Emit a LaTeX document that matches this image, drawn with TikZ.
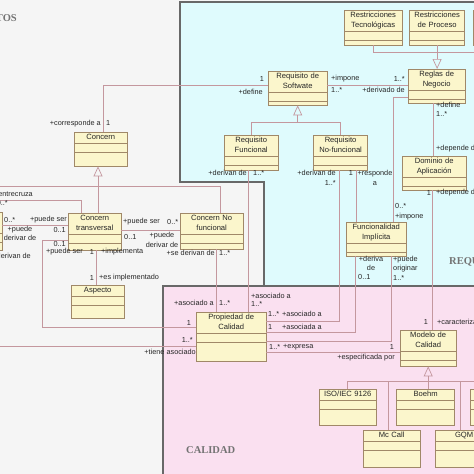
\documentclass[tikz,border=0pt]{standalone}
\usepackage{fontspec}
\setmainfont{Liberation Sans}
\newfontfamily\pkgfont{Liberation Serif}
\usetikzlibrary{positioning,shapes.multipart,arrows.meta}
\definecolor{bggray}{HTML}{F5F5F5}
\definecolor{reqblue}{HTML}{DFFBFD}
\definecolor{calpink}{HTML}{FAE0F0}
\definecolor{clsfill}{HTML}{FBF6CC}
\definecolor{clsline}{HTML}{A08868}
\definecolor{assoccol}{HTML}{C4979E}
\definecolor{pkgline}{HTML}{686868}
\newcommand{\cname}[1]{\rule{0pt}{5.5pt}#1\rule[-2pt]{0pt}{2pt}}

\begin{document}
\begin{tikzpicture}[x=1pt, y=-1pt,
  cls/.style={draw=clsline, fill=clsfill, rectangle split, rectangle split parts=3, rectangle split empty part height=0pt, inner xsep=1pt, inner ysep=1.5pt, text width=#1, align=center, anchor=north west, font=\fontsize{7.6}{10}\selectfont, text=black!85},
  lbl/.style={inner sep=0pt, font=\fontsize{7.3}{9.5}\selectfont, text=black!85},
  line/.style={draw=assoccol, line width=0.7pt},
  gen/.style={line, -{Triangle[open, length=10pt, width=9pt]}},
  pkg/.style={inner sep=0pt, text=black!55, font=\pkgfont\bfseries\fontsize{10.5}{12}\selectfont},
  pkgborder/.style={draw=pkgline, line width=1.6pt}]
\path[use as bounding box, clip] (0,0) rectangle (474,474);
\fill[bggray] (0,0) rectangle (474,474);
\fill[reqblue] (180,2) -- (480,2) -- (480,286) -- (264,286) -- (264,182) -- (180,182) -- cycle;
\fill[calpink] (163,286) rectangle (480,480);
\draw[pkgborder] (480,2) -- (180,2) -- (180,182) -- (264,182) -- (264,286) -- (480,286);
\draw[pkgborder] (163,480) -- (163,286) -- (264,286);
\node[pkg, anchor=east] (paspectos) at (17,18) {ASPECTOS};
\node[pkg, anchor=west] (preq) at (449,262) {REQUISITOS};
\node[pkg, anchor=west] (pcal) at (186,450) {CALIDAD};

\node[cls=51pt] (concern) at (74,132) {\cname{Concern} \nodepart{third}\rule{0pt}{11pt}};
\node[cls=51pt] (ct) at (68,213) {\cname{Concern\\transversal} \nodepart{third}\rule{0pt}{4pt}};
\node[cls=61pt] (cnf) at (180,213) {\cname{Concern No\\funcional} \nodepart{third}\rule{0pt}{3pt}};
\node[cls=51pt] (aspecto) at (71,285) {\cname{Aspecto} \nodepart{third}\rule{0pt}{10pt}};
\node[cls=56pt] (leftcls) at (-56,212) {\cname{\phantom{X}\\\phantom{X}} \nodepart{third}\rule{0pt}{5pt}};
\node[cls=57pt] (reqsw) at (268,71) {\cname{Requisito de\\Softwate} \nodepart{third}\rule{0pt}{1pt}};
\node[cls=55pt] (reglas) at (408,69) {\cname{Reglas de\\Negocio} \nodepart{third}\rule{0pt}{1pt}};
\node[cls=56pt] (rtec) at (344,10) {\cname{Restricciones\\Tecnológicas} \nodepart{third}\rule{0pt}{2pt}};
\node[cls=53pt, right=7pt of rtec] (rproc) {\cname{Restricciones\\de Proceso} \nodepart{third}\rule{0pt}{2pt}};
\node[cls=56pt, right=8pt of rproc] (rx) {\cname{\phantom{X}\\\phantom{X}} \nodepart{third}\rule{0pt}{2pt}};
\node[cls=52pt] (rfun) at (224,135) {\cname{Requisito\\Funcional} \nodepart{third}\rule{0pt}{2pt}};
\node[cls=52pt, right=35pt of rfun] (rnf) {\cname{Requisito\\No-funcional} \nodepart{third}\rule{0pt}{2pt}};
\node[cls=62pt] (dominio) at (402,156) {\cname{Dominio de\\Aplicación} \nodepart{third}\rule{0pt}{1pt}};
\node[cls=58pt] (funcimp) at (346,222) {\cname{Funcionalidad\\Implícita} \nodepart{third}\rule{0pt}{1pt}};
\node[cls=68pt] (propiedad) at (196,312) {\cname{Propiedad de\\Calidad} \nodepart{third}\rule{0pt}{16pt}};
\node[cls=54pt] (modelo) at (400,330) {\cname{Modelo de\\Calidad} \nodepart{third}\rule{0pt}{3pt}};
\node[cls=55pt] (iso) at (319,389) {\cname{ISO/IEC 9126} \nodepart{third}\rule{0pt}{13pt}};
\node[cls=56pt, right=20pt of iso] (boehm) {\cname{Boehm} \nodepart{third}\rule{0pt}{13pt}};
\node[cls=59pt, right=15pt of boehm] (q3) {\cname{\phantom{X}} \nodepart{third}\rule{0pt}{13pt}};
\node[cls=55pt] (mccall) at (363,430) {\cname{Mc Call} \nodepart{third}\rule{0pt}{14pt}};
\node[cls=55pt, right=15pt of mccall] (gqm) {\cname{GQM} \nodepart{third}\rule{0pt}{14pt}};

\coordinate (jreq) at (reqsw.south |- 0,122);
\coordinate (jmod) at (modelo.south |- 0,381);
\coordinate (gleft) at (-20,186);
\coordinate (xleft) at (-20,200);
\coordinate (tleft) at (-20,346);

\draw[line] ([xshift=3pt]concern.north) |- (reqsw.west |- 0,85);
\draw[line] (reqsw.east |- 0,85) -- (reglas.west |- 0,85);
\draw[line] (rtec.south) |- (rx.south |- 0,52) -- (rx.south);
\draw[gen] (rproc.south) -- (rproc.south |- reglas.north);
\draw[line] (rfun.north) -- (rfun.north |- jreq) -| (rnf.north);
\draw[gen] (jreq) -- (reqsw.south);
\draw[line] ([xshift=-3pt]reglas.south) -- ([xshift=-3pt]reglas.south |- dominio.north);
\draw[line] (dominio.south -| 432,0) -- (modelo.north -| 432,0);
\draw[line] (reglas.west |- 0,97) -| (funcimp.north -| 393,0);
\draw[line] (rnf.south -| 356,0) -- (funcimp.north -| 356,0);
\draw[line] (rnf.south -| 339,0) |- (propiedad.east |- 0,321);
\draw[line] (rfun.south -| 248,0) -- (propiedad.north -| 248,0);
\draw[line] (funcimp.south -| 355,0) |- (propiedad.east |- 0,332);
\draw[line] (funcimp.south -| 391,0) |- (propiedad.east |- 0,341);
\draw[line] (propiedad.east |- 0,352) -- (modelo.west |- 0,352);
\draw[gen] (jmod) -- (modelo.south);
\draw[line] (iso.north) |- (q3.north |- jmod) -- (q3.north);
\draw[line] (mccall.north -| 388,0) -- (jmod -| 388,0);
\draw[line] (boehm.north -| jmod) -- (jmod);
\draw[line] (gqm.north -| 460,0) -- (jmod -| 460,0);
\draw[line] (gleft) -| (cnf.north -| 220,0);
\draw[gen] (ct.north -| 98,0) -- (concern.south -| 98,0);
\draw[line] (xleft) -| (ct.north -| 81,0);
\draw[line] (leftcls.east |- 0,225) -- (ct.west |- 0,225);
\draw[line] (ct.east |- 0,230) -- (cnf.west |- 0,230);
\draw[line] (ct.west |- 0,240) -- ++(-26,0) |- (propiedad.west |- 0,327);
\draw[line] (ct.south -| 96,0) -- (aspecto.north -| 96,0);
\draw[line] (cnf.south -| 216,0) -- (propiedad.north -| 216,0);
\draw[line] (tleft) -- (propiedad.west |- tleft);

\node[lbl, anchor=east] (m1) at (101,124) {+corresponde a};
\node[lbl, anchor=west] (m2) at (106,123) {1};
\node[lbl, anchor=east] (m3) at (33,194) {+entrecruza};
\node[lbl, anchor=east] (m4) at (8,203) {0..*};
\node[lbl, anchor=west] (m5) at (4,220) {0..*};
\node[lbl, anchor=east] (m6) at (67,220) {+puede ser};
\node[lbl, align=center] (m7) at (20,233.5) {+puede\\derivar de};
\node[lbl, anchor=east] (m8) at (66,230) {0..1};
\node[lbl, anchor=east] (m9) at (31,256) {+derivan de};
\node[lbl, anchor=east] (m10) at (66,244) {0..1};
\node[lbl, anchor=east] (m11) at (83,252) {+puede ser};
\node[lbl] (m12) at (92,252) {1};
\node[lbl, anchor=west] (m13) at (101,252) {+implementa};
\node[lbl] (m14) at (92,278) {1};
\node[lbl, anchor=west] (m15) at (99,278) {+es implementado};
\node[lbl, anchor=west] (m16) at (123,222) {+puede ser};
\node[lbl, anchor=west] (m17) at (167,222) {0..*};
\node[lbl, anchor=west] (m18) at (124,237) {0..1};
\node[lbl, align=center] (m19) at (162,240) {+puede\\derivar de};
\node[lbl, anchor=east] (m20) at (215,253) {+se derivan de};
\node[lbl, anchor=west] (m21) at (219,253) {1..*};
\node[lbl, anchor=east] (m22) at (214,303) {+asociado a};
\node[lbl, anchor=west] (m23) at (219,303) {1..*};
\node[lbl] (m24) at (189,323) {1};
\node[lbl, anchor=east] (m25) at (193,340) {1..*};
\node[lbl, anchor=east] (m26) at (196,352) {+tiene asociado};
\node[lbl] (m27) at (262,79) {1};
\node[lbl, anchor=east] (m28) at (263,92) {+define};
\node[lbl, anchor=west] (m29) at (331,79) {+impone};
\node[lbl, anchor=west] (m30) at (331,90) {1..*};
\node[lbl, anchor=east] (m31) at (405,79) {1..*};
\node[lbl, anchor=east] (m32) at (405,90) {+derivado de};
\node[lbl, anchor=west] (m33) at (436,105) {+define};
\node[lbl, anchor=west] (m34) at (436,114) {1..*};
\node[lbl, anchor=west] (m35) at (436,149) {+depende de};
\node[lbl, anchor=east] (m36) at (247,173) {+derivan de};
\node[lbl, anchor=west] (m37) at (253,173) {1..*};
\node[lbl, align=right, anchor=east] (m38) at (336,178) {+derivan de\\1..*};
\node[lbl] (m39) at (351,173) {1};
\node[lbl, align=center] (m40) at (375,178) {+responde\\a};
\node[lbl] (m41) at (429,193) {1};
\node[lbl, anchor=west] (m42) at (436,193) {+depende de};
\node[lbl, align=left, anchor=west] (m43) at (395,211.5) {0..*\\+impone};
\node[lbl, align=center] (m44) at (371,263.5) {+deriva\\de};
\node[lbl, anchor=west] (m45) at (358,277) {0..1};
\node[lbl, align=left, anchor=west] (m46) at (393,268) {+puede\\originar\\1..*};
\node[lbl, anchor=west] (m47) at (251,296) {+asociado a};
\node[lbl, anchor=west] (m48) at (251,304) {1..*};
\node[lbl, anchor=west] (m49) at (268,314) {1..*};
\node[lbl, anchor=west] (m50) at (282,314) {+asociado a};
\node[lbl, anchor=west] (m51) at (268,327) {1};
\node[lbl, anchor=west] (m52) at (282,327) {+asociada a};
\node[lbl, anchor=west] (m53) at (269,347) {1..*};
\node[lbl, anchor=west] (m54) at (283,347) {+expresa};
\node[lbl] (m55) at (392,347) {1};
\node[lbl, anchor=east] (m56) at (395,358) {+especificada por};
\node[lbl] (m57) at (426,322) {1};
\node[lbl, anchor=west] (m58) at (437,322) {+caracteriza};
\end{tikzpicture}
\end{document}
